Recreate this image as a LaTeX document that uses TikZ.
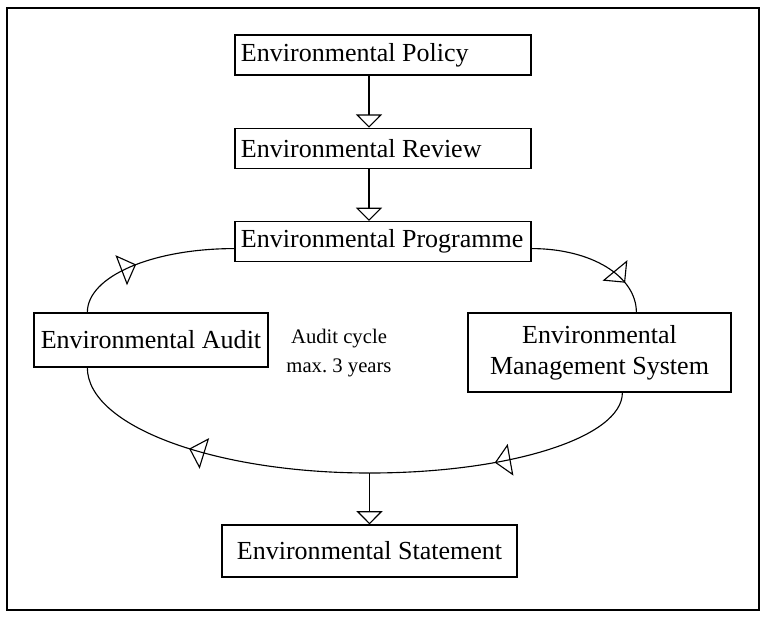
\documentclass[tikz,border=0pt]{standalone}
\usepackage{fontspec}
\setmainfont{Liberation Serif}
\usetikzlibrary{arrows.meta,positioning,calc,decorations.markings}

\begin{document}
\begin{tikzpicture}[x=0.025cm, y=-0.025cm, node distance=1.3cm,
  loopmark/.style={postaction={decorate}, decoration={markings, mark=at position #1 with {\arrow{Triangle[open, length=0.4cm, width=0.8cm]}}}}]
\tikzstyle{block} = [rectangle, draw, line width=0.9pt, fill=white, font=\fontsize{18.5}{22}\selectfont, inner sep=0pt]
\tikzstyle{stepbox} = [block, minimum width=7.4cm, minimum height=1cm]
\tikzstyle{flow} = [draw, line width=0.8pt, -{Triangle[open, length=0.33cm, width=0.65cm]}]
\tikzstyle{loopline} = [draw, line width=0.8pt]
\newcommand{\steptext}[1]{\makebox[7.1cm][l]{#1}}

\useasboundingbox (0,0) rectangle (768,619);
\draw [line width=1.1pt] (7,8) rectangle (759,610);

% chain at the top
\node [stepbox] (policy) at (383,55) {\steptext{Environmental Policy}};
\node [stepbox, below=of policy] (review) {\steptext{Environmental Review}};
\node [stepbox, below=of review] (programme) {\steptext{Environmental Programme}};

% boxes on the cycle
\node [block, minimum width=5.85cm, minimum height=1.35cm] (audit) at (151,340) {Environmental Audit};
\node [block, minimum width=6.575cm, minimum height=1.975cm, align=center] (ems) at (599.5,352.5) {Environmental\\Management System};
\node [font=\fontsize{14.7}{21}\selectfont, align=center] (cycle) at (339,353) {Audit cycle\\max.\ 3 years};
\node [block, minimum width=7.375cm, minimum height=1.3cm] (statement) at (369.5,551) {Environmental Statement};
\coordinate (low) at (369.5,473);

% arrows down the chain
\draw [flow] ([xshift=-0.35cm]policy.south) -- ([xshift=-0.35cm]review.north);
\draw [flow] ([xshift=-0.35cm]review.south) -- ([xshift=-0.35cm]programme.north);
\draw [flow] (low) -- (statement);

% the audit cycle
\draw [loopline, loopmark=0.42] ([xshift=1.35cm]audit.north west) to[out=90, in=180, out distance=0.91cm, in distance=2.03cm] ([yshift=-0.175cm]programme.west);
\draw [loopline, loopmark=0.76] ([yshift=-0.175cm]programme.east) to[out=0, in=90, out distance=1.48cm, in distance=0.91cm] ([xshift=4.225cm]ems.north west);
\draw [loopline, loopmark=0.55] ([xshift=3.875cm]ems.south west) to[out=-90, in=0, out distance=1.12cm, in distance=3.5cm] (low);
\draw [loopline, loopmark=0.57] (low) to[out=180, in=-90, out distance=3.88cm, in distance=1.46cm] ([xshift=1.35cm]audit.south west);

\end{tikzpicture}
\end{document}
